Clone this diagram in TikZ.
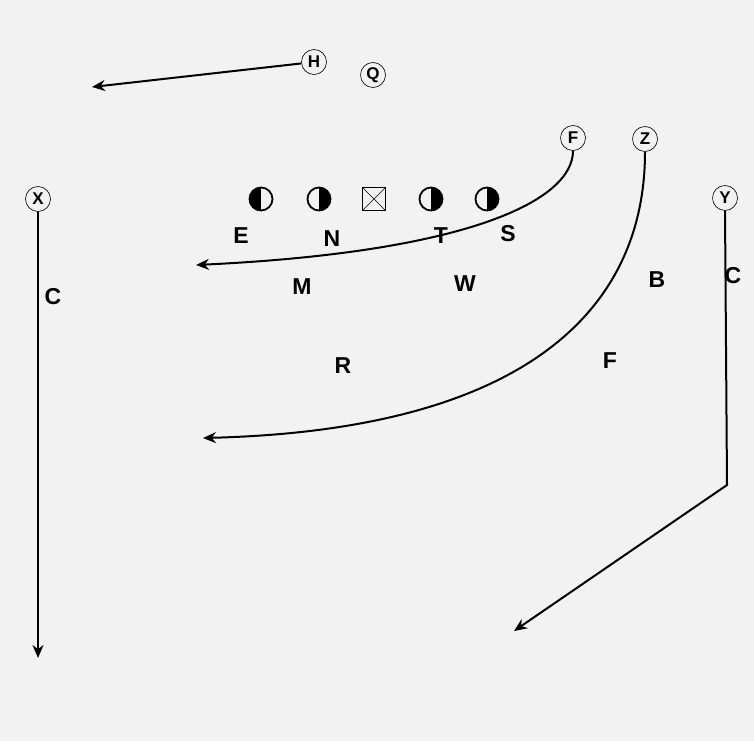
\documentclass[tikz,border=0pt]{standalone}
\usepackage{fontspec}
\setmainfont{Liberation Sans}
\usetikzlibrary{arrows.meta}

\tikzset{
  player/.style={circle, draw, line width=0.6pt, minimum size=25pt, inner sep=0pt,
    font=\bfseries\fontsize{17}{17}\selectfont},
  lineman/.style={circle, draw, line width=1.8pt, minimum size=23pt, inner sep=0pt,
    path picture={\fill (path picture bounding box.north) rectangle (path picture bounding box.south east);}},
  endman/.style={circle, draw, line width=1.8pt, minimum size=23pt, inner sep=0pt,
    path picture={\fill (path picture bounding box.north west) rectangle (path picture bounding box.south);}},
  centerman/.style={rectangle, draw, line width=1.8pt, minimum size=23pt, inner sep=0pt,
    path picture={\draw[line width=0.6pt] (path picture bounding box.north west) -- (path picture bounding box.south east)
      (path picture bounding box.north east) -- (path picture bounding box.south west);}},
  defender/.style={font=\bfseries\fontsize{23}{23}\selectfont, inner sep=0pt},
  route/.style={line width=2pt, -{Stealth[length=13pt, width=11pt]}}
}

\begin{document}
\begin{tikzpicture}[x=1pt, y=-1pt]
	\fill [black!5] (0,0) rectangle (754,741);

	% offense
	\node [player] (H) at (314,62) {H};
	\node [player] (Q) at (373,75) {Q};
	\node [player] (F) at (573,138) {F};
	\node [player] (Z) at (645,139) {Z};
	\node [player] (X) at (38,199) {X};
	\node [player] (Y) at (725,198) {Y};

	\node [endman] (LT) at (261,199) {};
	\node [lineman] (LG) at (319,199) {};
	\node [centerman] (OC) at (374,199) {};
	\node [lineman] (RG) at (431,199) {};
	\node [lineman] (RT) at (487,199) {};

	% defense
	\node [defender] (dE) at (241,236) {E};
	\node [defender] (dN) at (332,239) {N};
	\node [defender] (dT) at (441,236) {T};
	\node [defender] (dS) at (508,234) {S};
	\node [defender] (dM) at (302,287) {M};
	\node [defender] (dW) at (465,284) {W};
	\node [defender] (dB) at (657,280) {B};
	\node [defender] (dC1) at (53,297) {C};
	\node [defender] (dC2) at (733,276) {C};
	\node [defender] (dR) at (343,366) {R};
	\node [defender] (dF) at (610,361) {F};

	% routes
	\coordinate (hend) at (92,87);
	\coordinate (xend) at (38,658);
	\coordinate (fend) at (196,265);
	\coordinate (zend) at (203,438);
	\coordinate (ycut) at (727,485);
	\coordinate (yend) at (514,631);

	\draw [route] (H) -- (hend);
	\draw [route] (X) -- (xend);
	\draw [route] (F.south) .. controls (573,200) and (470,252) .. (fend);
	\draw [route] (Z.south) .. controls (645,310) and (525,430) .. (zend);
	\draw [route] (Y.south) -- (ycut) -- (yend);

\end{tikzpicture}
\end{document}
